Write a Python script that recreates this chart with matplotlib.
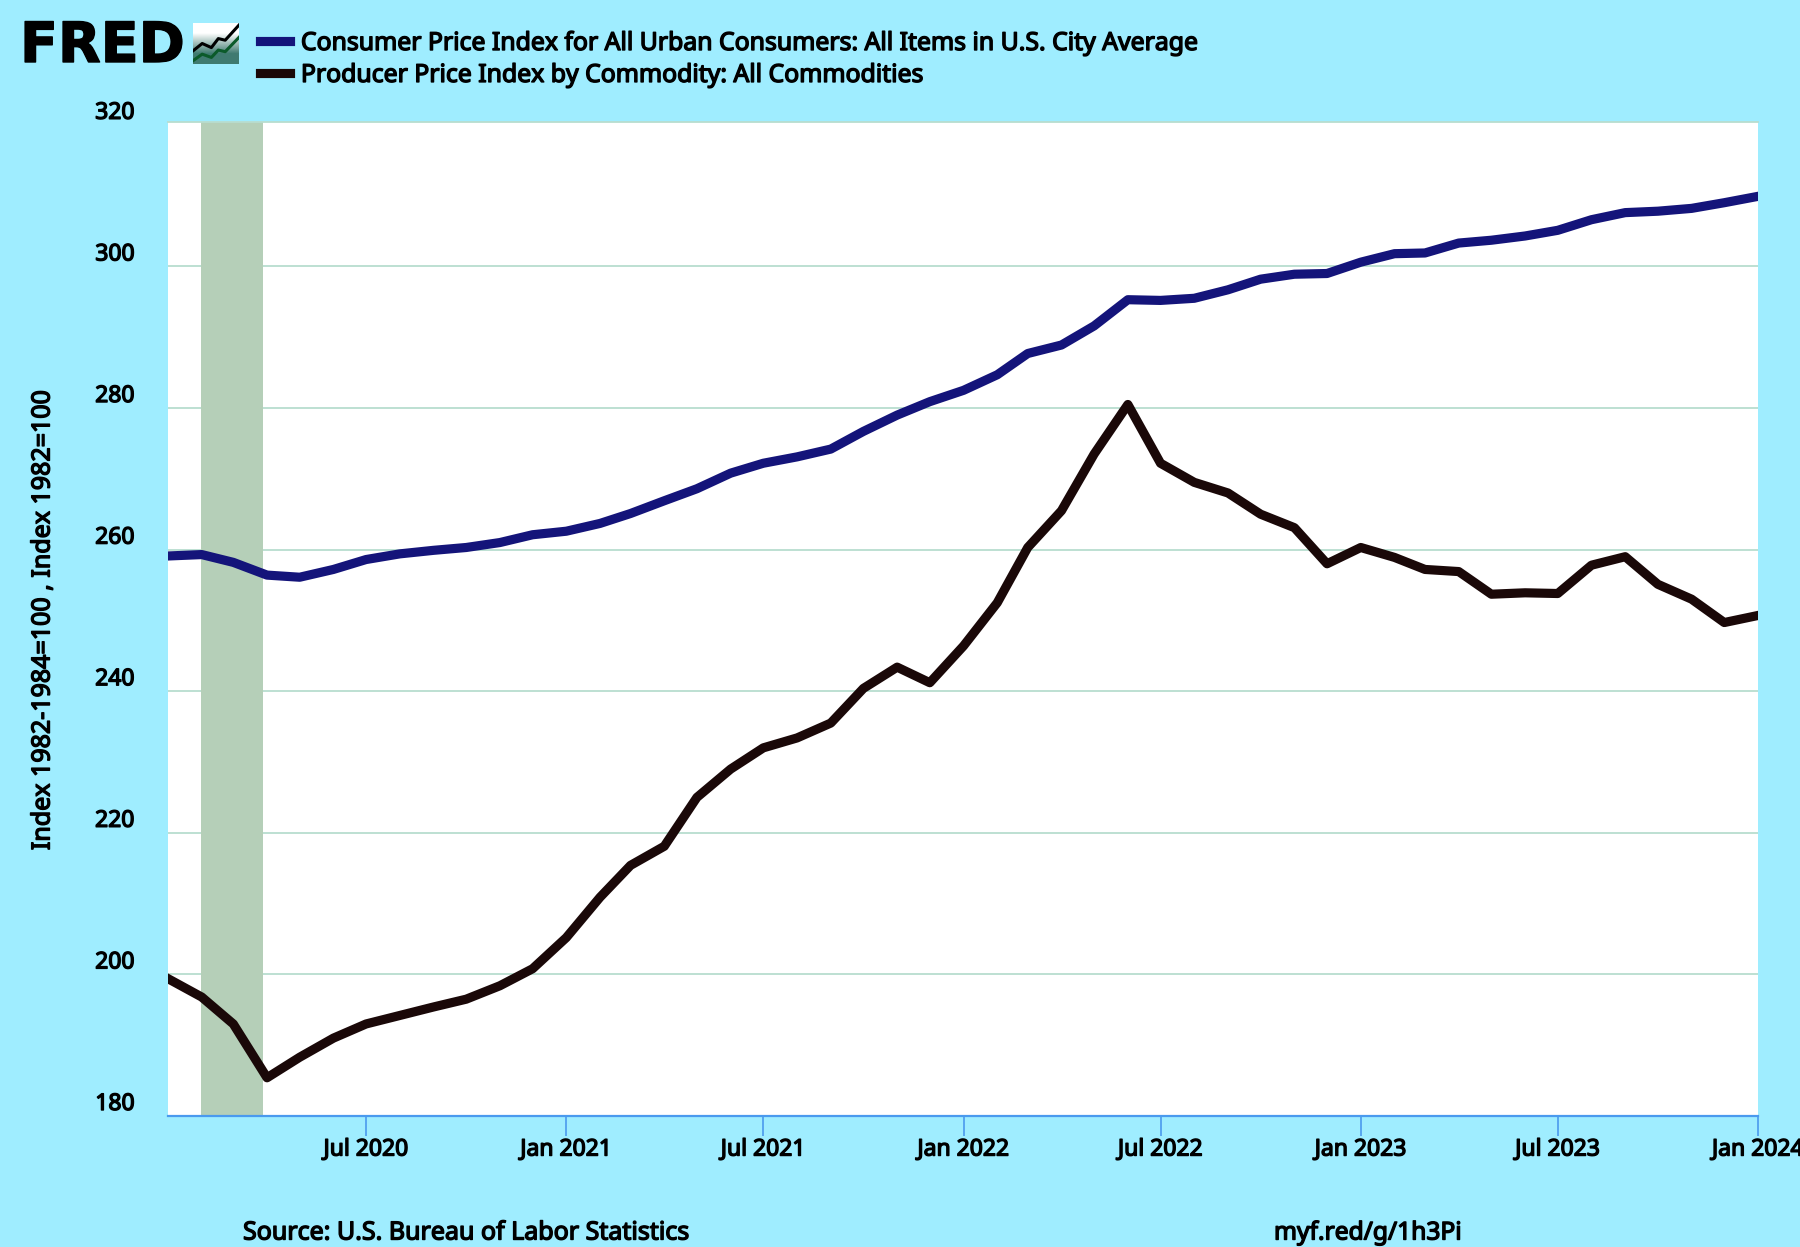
import pandas as pd
import numpy as np
import matplotlib.pyplot as plt
import matplotlib.patheffects as pe
from matplotlib.text import Text

W, H = 1800, 1247
BG = '#9FEDFF'

# monthly values, Jan 2020 - Jan 2024
cpi = [259.1, 259.3, 258.2, 256.4, 256.1, 257.2, 258.6, 259.4, 259.9, 260.3,
       261.0, 262.1, 262.6, 263.7, 265.1, 266.9, 268.6, 270.8, 272.2, 273.1,
       274.2, 276.7, 279.0, 280.9, 282.5, 284.7, 287.7, 288.9, 291.6, 295.3,
       295.2, 295.5, 296.7, 298.2, 298.9, 299.0, 300.6, 301.8, 301.9, 303.3,
       303.7, 304.3, 305.1, 306.6, 307.6, 307.8, 308.2, 309.0, 309.9]
ppi = [199.4, 196.8, 193.0, 185.4, 188.3, 191.0, 193.0, 194.2, 195.4, 196.5,
       198.4, 200.8, 205.2, 210.9, 215.4, 218.1, 225.0, 229.0, 232.0, 233.4,
       235.5, 240.4, 243.4, 241.2, 246.4, 252.5, 260.3, 265.5, 273.5, 280.5,
       272.2, 269.5, 268.0, 265.0, 263.1, 258.0, 260.3, 258.9, 257.2, 256.9,
       253.7, 253.9, 253.8, 257.8, 259.0, 255.1, 253.0, 249.7, 250.7]
dates = pd.date_range('2020-01-01', periods=len(cpi), freq='MS')

y_ticks = [180, 200, 220, 240, 260, 280, 300, 320]
x_ticks = pd.to_datetime(['2020-07-01', '2021-01-01', '2021-07-01', '2022-01-01',
                          '2022-07-01', '2023-01-01', '2023-07-01', '2024-01-01'])
x_labels = ['Jul 2020', 'Jan 2021', 'Jul 2021', 'Jan 2022',
            'Jul 2022', 'Jan 2023', 'Jul 2023', 'Jan 2024']
recession = ('2020-01-31', '2020-03-28')

cpi_label = 'Consumer Price Index for All Urban Consumers: All Items in U.S. City Average'
ppi_label = 'Producer Price Index by Commodity: All Commodities'

plt.rcParams['font.family'] = ['Noto Sans', 'DejaVu Sans']

fig = plt.figure(figsize=(W / 100, H / 100), dpi=100, facecolor=BG)
ax = fig.add_axes([168 / W, 1 - 1116 / H, (1758 - 168) / W, (1116 - 122) / H])
ax.set_facecolor('white')

ax.axvspan(pd.Timestamp(recession[0]), pd.Timestamp(recession[1]), color='#B5CFB8', lw=0, zorder=1)
l1, = ax.plot(dates, cpi, color='#14147A', linewidth=6.6, label=cpi_label, zorder=3)
l2, = ax.plot(dates, ppi, color='#1A0808', linewidth=6.6, label=ppi_label, zorder=3)

ax.set_xlim(dates[0], dates[-1])
ax.set_ylim(180, 320.4)
ax.set_axisbelow(True)
ax.grid(True, axis='y', color='#B8DDCF', linewidth=1.3)

for s in ['left', 'right']:
    ax.spines[s].set_visible(False)
ax.spines['top'].set_color('#B8DDCF')
ax.spines['top'].set_linewidth(1.3)
ax.spines['bottom'].set_color('#4A9AEE')
ax.spines['bottom'].set_linewidth(1.6)

ax.set_xticks(x_ticks)
ax.set_xticklabels(x_labels)
ax.tick_params(axis='x', length=14.5, width=1.2, color='#4A9AEE', labelsize=16.5, pad=1)
ax.set_yticks(y_ticks)
ax.tick_params(axis='y', length=0, labelsize=16.5, pad=24)
for lab in ax.get_yticklabels():
    lab.set_verticalalignment('bottom')
# top spine already draws this one
ax.get_ygridlines()[-1].set_visible(False)

fig.text(43 / W, 1 - 620 / H, 'Index 1982-1984=100 , Index 1982=100', rotation=90,
         ha='center', va='center', fontsize=18)
fig.text(243 / W, 1 - 1233 / H, 'Source: U.S. Bureau of Labor Statistics',
         ha='left', va='center', fontsize=18)
fig.text(1274 / W, 1 - 1233 / H, 'myf.red/g/1h3Pi', ha='left', va='center', fontsize=17.7)

fig.legend(handles=[l1, l2], loc='upper left', bbox_to_anchor=(260 / W, 1 - 31 / H),
           frameon=False, fontsize=17.85, handlelength=1.2, handletextpad=0.45,
           labelspacing=0.28, borderpad=0, borderaxespad=0)

# logo
fig.text(20 / W, 1 - 47 / H, 'FRED', ha='left', va='center', fontsize=40,
         fontweight='bold', family='DejaVu Sans', color='black')
icon = fig.add_axes([193 / W, 1 - 64 / H, 46 / W, 41 / H])
icon.imshow(np.array([[0.0], [1.0]]), aspect='auto', extent=[0, 10, 0, 10],
            cmap=plt.cm.colors.LinearSegmentedColormap.from_list('g', ['#FFFFFF', '#3F7A70']),
            interpolation='bilinear')
icon.plot([0, 2, 4, 5.5, 7, 10], [3.2, 5, 4, 6.2, 5.8, 9.5], color='black', lw=2.2)
icon.plot([0, 2, 4, 5.5, 7, 10], [0.8, 2.4, 1.6, 3.4, 3, 6.5], color='#0B5A2A', lw=2.2)
icon.set_xlim(0, 10)
icon.set_ylim(0, 10)
icon.axis('off')

# the reference text is heavy and smeared, no semibold face available so thicken it
for t in fig.findobj(Text):
    t.set_path_effects([pe.withStroke(linewidth=1.0, foreground='black')])

plt.savefig('out.png', dpi=100, facecolor=BG)
